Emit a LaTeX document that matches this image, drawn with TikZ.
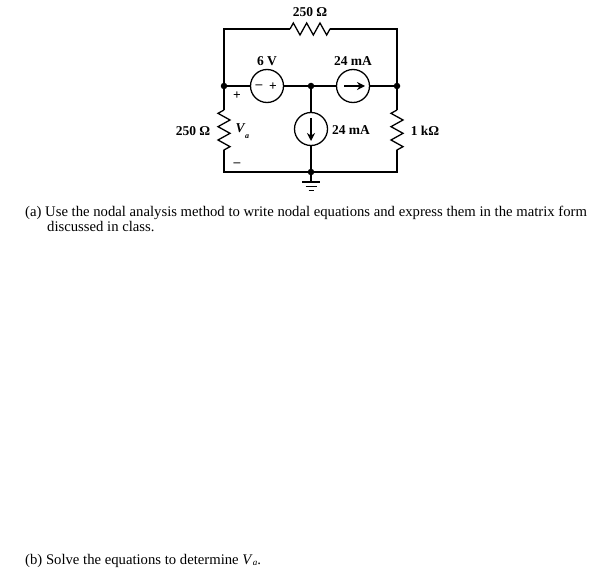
\documentclass[tikz,border=0pt]{standalone}
\usepackage{fontspec}
\setmainfont{Liberation Serif}
\usetikzlibrary{arrows.meta,decorations.pathmorphing}
\tikzset{
	wire/.style={line width=1.3pt},
	res/.style={wire,decorate,decoration={zigzag,segment length=13.33pt,amplitude=6pt}},
	resv/.style={wire,decorate,decoration={zigzag,segment length=13.33pt,amplitude=6pt,mirror}},
	src/.style={circle,draw,line width=1.3pt,minimum size=33pt,inner sep=0pt},
	junc/.style={circle,fill=black,inner sep=0pt,minimum size=6.5pt},
	lbl/.style={font=\fontsize{13.5}{15}\selectfont\bfseries,inner sep=0pt},
	para/.style={font=\fontsize{14.7}{17}\selectfont,inner sep=0pt,anchor=base west}
}
\begin{document}
\begin{tikzpicture}[x=1pt,y=-1pt]
	\useasboundingbox (0,0) rectangle (607,588);
	\path (224,29) coordinate (TL)
	(397,29) coordinate (TR)
	(224,172) coordinate (BL)
	(397,172) coordinate (BR)
	(290,29) coordinate (Rta)
	(330,29) coordinate (Rtb)
	(224,110) coordinate (Rla)
	(224,150) coordinate (Rlb)
	(397,110) coordinate (Rra)
	(397,150) coordinate (Rrb)
	(311,182) coordinate (G);
	\node[junc] (L) at (224,86) {};
	\node[junc] (M) at (311,86) {};
	\node[junc] (R) at (397,86) {};
	\node[junc] (B) at (311,172) {};
	\node[src] (Vs) at (267,86) {};
	\node[src] (Ih) at (353,86) {};
	\node[src] (Iv) at (311,129) {};
	% outer loop
	\draw[wire] (L)--(TL)--(Rta) (Rtb)--(TR)--(R);
	\draw[wire] (L)--(Rla) (Rlb)--(BL)--(B)--(BR)--(Rrb) (Rra)--(R);
	\draw[res] (Rta)--(Rtb);
	\draw[resv] (Rla)--(Rlb);
	\draw[resv] (Rra)--(Rrb);
	% middle branches
	\draw[wire] (L)--(Vs) (Vs)--(M) (M)--(Ih) (Ih)--(R) (M)--(Iv) (Iv)--(B) (B)--(G);
	\draw[wire,-{Stealth[length=8pt,width=8pt]}] (344,86)--(365,86);
	\draw[wire,-{Stealth[length=8pt,width=8pt]}] (311,118)--(311,141);
	\foreach \w/\d in {9/0,5.5/4.5,2.5/8.5}{
		\draw[wire] ([shift={(-\w,\d)}]G)--([shift={(\w,\d)}]G);
	}
	\node[lbl] (a) at (259,86.5) {–};
	\node[lbl] (b) at (273,87) {+};
	\node[lbl] at (310,12) {250 Ω};
	\node[lbl] at (267,61) {6 V};
	\node[lbl] at (353,61) {24 mA};
	\node[lbl] at (351,130) {24 mA};
	\node[lbl] at (425,131) {1 kΩ};
	\node[lbl] at (193,131) {250 Ω};
	\node[lbl] at (237,96) {+};
	\node[lbl] at (237,165) {–};
	\node[lbl] at (240,128) {\itshape V};
	\node[lbl,font=\fontsize{8}{9}\selectfont\bfseries\itshape] at (247,137) {a};
	\node[para] at (25,216) {(a) Use the nodal analysis method to write nodal equations and express them in the matrix form};
	\node[para] at (47,231) {discussed in class.};
	\node[para] at (25,564) {(b) Solve the equations to determine \textit{V}\raisebox{-1.5pt}{\fontsize{9}{10}\selectfont\textit{a}}.};
\end{tikzpicture}
\end{document}
